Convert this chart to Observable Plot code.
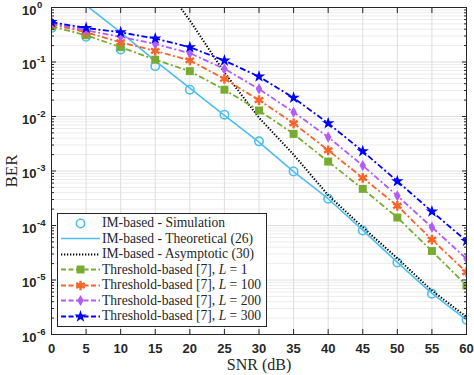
<!DOCTYPE html>
<html><head><meta charset="utf-8">
<script src="https://cdn.jsdelivr.net/npm/d3@7"></script>
<script src="https://cdn.jsdelivr.net/npm/@observablehq/plot@0.6"></script>
<style>
body{margin:0;background:#fff;}
#wrap{position:relative;width:474px;height:375px;overflow:hidden;}
#legend{position:absolute;left:57px;top:213px;width:210px;height:114px;background:#fff;border:1px solid #262626;box-sizing:border-box;font-family:"Liberation Serif","Times New Roman",serif;font-size:13.6px;color:#262626;}
.row{position:absolute;left:0;height:15px;display:flex;align-items:center;white-space:nowrap;}
.row svg{display:block;margin-right:0;}
</style></head>
<body><div id="wrap"><div id="chart"></div><div id="legend"></div></div>
<script>
// ---- data ----
const snr = [0, 5, 10, 15, 20, 25, 30, 35, 40, 45, 50, 55, 60];
const simBER = [0.42, 0.29, 0.17, 0.084, 0.031, 0.0108, 0.0035, 0.00098, 0.00031, 0.000081, 0.000021, 0.0000056, 0.00000186];
const theoSNR = [5, 10, 15, 20, 25, 30, 35, 40, 45, 50, 55, 60];
const theoBER = [1.1, 0.35, 0.105, 0.033, 0.0105, 0.0034, 0.00097, 0.00031, 0.000082, 0.000021, 0.0000057, 0.00000186];
const asymSNR = [18.5, 20, 25, 30, 35, 40, 45, 50, 55, 60];
const asymBER = [1.05, 0.58, 0.064, 0.0095, 0.0020, 0.00036, 0.000093, 0.000025, 0.0000064, 0.0000021];
const thrL1 = [0.45, 0.31, 0.187, 0.11, 0.068, 0.031, 0.0129, 0.0048, 0.00149, 0.00047, 0.00014, 0.000034, 0.0000079];
const thrL100 = [0.49, 0.35, 0.23, 0.16, 0.107, 0.049, 0.020, 0.0075, 0.0024, 0.00075, 0.00023, 0.000055, 0.0000139];
const thrL200 = [0.51, 0.38, 0.29, 0.215, 0.145, 0.075, 0.032, 0.012, 0.0042, 0.00126, 0.00035, 0.000093, 0.0000245];
const thrL300 = [0.54, 0.42, 0.35, 0.27, 0.187, 0.106, 0.054, 0.022, 0.0075, 0.0023, 0.00065, 0.00018, 0.000052];
const xTicks = [0, 5, 10, 15, 20, 25, 30, 35, 40, 45, 50, 55, 60];
const yTicks = [1e-6, 1e-5, 1e-4, 1e-3, 1e-2, 1e-1, 1];
const yExp = ["-6", "-5", "-4", "-3", "-2", "-1", "0"];
const legendLabels = ["IM-based - Simulation", "IM-based - Theoretical (26)", "IM-based - Asymptotic (30)",
  "Threshold-based [7], <i>L</i> = 1", "Threshold-based [7], <i>L</i> = 100", "Threshold-based [7], <i>L</i> = 200", "Threshold-based [7], <i>L</i> = 300"];

// ---- styles ----
const cBlueL = "#4DBEEE", cGreen = "#77AC30", cOrange = "#F5652A", cPurple = "#B35CF5", cBlue = "#0000FF";
const dashDot = "6,2.5,2,2.5";
const dotted = "1.3,1.7";
const serif = "Liberation Serif, Times New Roman, serif";
const yMinor = [];
for (let k = -6; k < 0; k++) for (let m = 2; m <= 9; m++) yMinor.push(m * Math.pow(10, k));

const series = [
  {y: thrL1, color: cGreen, symbol: "square", r: 4.5, filled: true},
  {y: thrL100, color: cOrange, symbol: "asterisk", r: 4.6, filled: false},
  {y: thrL200, color: cPurple, symbol: "diamond", r: 3.4, filled: true},
  {y: thrL300, color: cBlue, symbol: "star", r: 3.9, filled: true}
];
const pts = (xs, ys) => xs.map((x, i) => ({x, y: ys[i]}));

const marks = [
  Plot.gridY(yMinor, {stroke: "#ececec", strokeOpacity: 1}),
  Plot.gridX(xTicks, {stroke: "#dedede", strokeOpacity: 1}),
  Plot.gridY(yTicks, {stroke: "#dedede", strokeOpacity: 1}),
  Plot.dot(pts(snr, simBER), {x: "x", y: "y", r: 4.2, stroke: cBlueL, strokeWidth: 1.6, fill: "none", clip: true}),
  Plot.line(pts(theoSNR, theoBER), {x: "x", y: "y", stroke: cBlueL, strokeWidth: 1.6, clip: true}),
  Plot.line(pts(asymSNR, asymBER), {x: "x", y: "y", stroke: "#000", strokeWidth: 2, strokeDasharray: dotted, strokeLinecap: "butt", clip: true})
];
for (const s of series) {
  const d = pts(snr, s.y);
  marks.push(Plot.line(d, {x: "x", y: "y", stroke: s.color, strokeWidth: 1.8, strokeDasharray: dashDot, strokeLinecap: "butt", clip: true}));
  marks.push(Plot.dot(d, s.filled
    ? {x: "x", y: "y", symbol: s.symbol, r: s.r, fill: s.color, stroke: "none", clip: true}
    : {x: "x", y: "y", symbol: s.symbol, r: s.r, stroke: s.color, strokeWidth: 2.4, fill: "none", clip: true}));
}
marks.push(
  Plot.frame({stroke: "#262626"}),
  Plot.axisX(xTicks, {anchor: "bottom", tickSize: -5, tickPadding: 14, label: null, tickFormat: d => String(d), stroke: "#262626", fill: "#262626"}),
  Plot.axisX(xTicks, {anchor: "top", tickSize: -5, fill: "none", label: null, stroke: "#262626"}),
  Plot.axisY(yTicks, {anchor: "left", tickSize: -5, fill: "none", label: null, stroke: "#262626"}),
  Plot.axisY(yTicks, {anchor: "right", tickSize: -5, fill: "none", label: null, stroke: "#262626"}),
  Plot.axisY(yMinor, {anchor: "left", tickSize: -3, fill: "none", label: null, stroke: "#262626"}),
  Plot.axisY(yMinor, {anchor: "right", tickSize: -3, fill: "none", label: null, stroke: "#262626"}),
  Plot.text(yTicks, {y: d => d, text: () => "10", frameAnchor: "left", dx: -15, dy: 3, textAnchor: "end", lineAnchor: "middle", fill: "#262626"}),
  Plot.text(yTicks, {y: d => d, text: (d, i) => yExp[i], frameAnchor: "left", dx: -14.5, dy: -3, textAnchor: "start", lineAnchor: "middle", fontSize: 9.5, fill: "#262626"}),
  Plot.text(["SNR (dB)"], {text: d => d, frameAnchor: "bottom", dy: 30.5, textAnchor: "middle", lineAnchor: "middle", fontFamily: serif, fontWeight: "normal", fontSize: 16, fill: "#262626"}),
  Plot.text(["BER"], {text: d => d, frameAnchor: "left", dx: -40, rotate: -90, textAnchor: "middle", lineAnchor: "middle", fontFamily: serif, fontWeight: "normal", fontSize: 17, fill: "#262626"})
);

const chart = Plot.plot({
  width: 474, height: 375,
  marginTop: 7, marginBottom: 41, marginLeft: 51, marginRight: 8,
  x: {domain: [0, 60]},
  y: {type: "log", domain: [1e-6, 1]},
  style: {fontFamily: "Liberation Sans, Arial, sans-serif", fontSize: "13px", fontWeight: "bold", background: "#fff", overflow: "visible"},
  marks
});
document.getElementById("chart").appendChild(chart);

// ---- legend ----
const legendItems = [
  {color: cBlueL, line: null, marker: "circle"},
  {color: cBlueL, line: "solid", marker: null},
  {color: "#000", line: "dotted", marker: null},
  {color: cGreen, line: "dash", marker: series[0]},
  {color: cOrange, line: "dash", marker: series[1]},
  {color: cPurple, line: "dash", marker: series[2]},
  {color: cBlue, line: "dash", marker: series[3]}
];
const symMap = {square: d3.symbolSquare, asterisk: d3.symbolAsterisk, diamond: d3.symbolDiamond, star: d3.symbolStar};
const rowTops = [10, 25.5, 41, 56.5, 72, 87.5, 103];
const leg = document.getElementById("legend");
legendItems.forEach((it, i) => {
  const row = document.createElement("div");
  row.className = "row";
  row.style.top = (rowTops[i] - 1 - 7.5) + "px";
  let svg = `<svg width="44" height="15" viewBox="0 0 44 15">`;
  if (it.line === "solid") svg += `<line x1="3" x2="42" y1="7.5" y2="7.5" stroke="${it.color}" stroke-width="1.6"/>`;
  if (it.line === "dotted") svg += `<line x1="3" x2="42" y1="7.5" y2="7.5" stroke="${it.color}" stroke-width="2" stroke-dasharray="${dotted}"/>`;
  if (it.line === "dash") svg += `<line x1="3" x2="42" y1="7.5" y2="7.5" stroke="${it.color}" stroke-width="1.8" stroke-dasharray="5,2.5"/>`;
  if (it.marker === "circle") svg += `<circle cx="22.5" cy="7.5" r="4.2" fill="none" stroke="${it.color}" stroke-width="1.6"/>`;
  else if (it.marker) {
    const p = d3.symbol(symMap[it.marker.symbol], Math.PI * it.marker.r * it.marker.r)();
    svg += it.marker.filled
      ? `<path transform="translate(22.5,7.5)" d="${p}" fill="${it.color}"/>`
      : `<path transform="translate(22.5,7.5)" d="${p}" fill="none" stroke="${it.color}" stroke-width="2.4"/>`;
  }
  svg += `</svg>`;
  row.innerHTML = svg + `<span>${legendLabels[i]}</span>`;
  leg.appendChild(row);
});
</script>
</body></html>
